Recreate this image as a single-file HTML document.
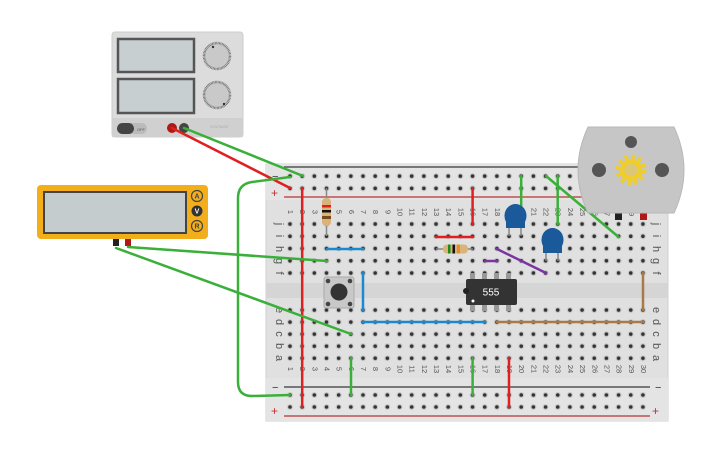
<!DOCTYPE html>
<html><head><meta charset="utf-8"><style>
html,body{margin:0;padding:0;background:#fff;}
svg{display:block;font-family:"Liberation Sans",sans-serif;}
</style></head><body>
<svg width="725" height="453" viewBox="0 0 725 453" xmlns="http://www.w3.org/2000/svg">
<defs>
<pattern id="h" x="283.915" y="170" width="12.17" height="12.25" patternUnits="userSpaceOnUse">
<circle cx="6.085" cy="6.125" r="3" fill="#c9c9c9"/><circle cx="6.085" cy="6.125" r="1.8" fill="#333"/>
</pattern>
<pattern id="h2" x="283.915" y="217.9" width="12.17" height="12.25" patternUnits="userSpaceOnUse">
<circle cx="6.085" cy="6.125" r="3" fill="#c9c9c9"/><circle cx="6.085" cy="6.125" r="1.8" fill="#333"/>
</pattern>
<pattern id="h3" x="283.915" y="303.9" width="12.17" height="12.05" patternUnits="userSpaceOnUse">
<circle cx="6.085" cy="6.1" r="3" fill="#c9c9c9"/><circle cx="6.085" cy="6.1" r="1.8" fill="#333"/>
</pattern>
<pattern id="h4" x="283.915" y="389" width="12.17" height="12" patternUnits="userSpaceOnUse">
<circle cx="6.085" cy="6" r="3" fill="#c9c9c9"/><circle cx="6.085" cy="6" r="1.8" fill="#333"/>
</pattern>
</defs>

<!-- breadboard -->
<rect x="266" y="164" width="402" height="257" fill="#e0e0e0" stroke="#cfcfcf"/>
<rect x="266" y="164" width="402" height="36" fill="#e4e4e4"/>
<rect x="266" y="283" width="402" height="15" fill="#d5d5d5"/>
<rect x="266" y="378" width="402" height="43" fill="#e4e4e4"/>
<line x1="284" y1="167" x2="650" y2="167" stroke="#555" stroke-width="1.5"/>
<line x1="284" y1="197" x2="650" y2="197" stroke="#c05050" stroke-width="1.5"/>
<line x1="284" y1="387" x2="650" y2="387" stroke="#555" stroke-width="1.5"/>
<line x1="284" y1="416" x2="650" y2="416" stroke="#c05050" stroke-width="1.5"/>
<rect x="284" y="170" width="365" height="24.5" fill="url(#h)"/>
<rect x="284" y="217.9" width="365" height="61.25" fill="url(#h2)"/>
<rect x="284" y="303.9" width="365" height="60.25" fill="url(#h3)"/>
<rect x="284" y="389" width="365" height="24" fill="url(#h4)"/>
<g fill="#333" font-size="11"><text x="272" y="180">−</text><text x="655" y="180">−</text><text x="272" y="391">−</text><text x="655" y="391">−</text></g>
<g fill="#c03030" font-size="12"><text x="271" y="197">+</text><text x="652" y="197">+</text><text x="271" y="415">+</text><text x="652" y="415">+</text></g>
<g fill="#555" font-size="11" text-anchor="middle">
<text transform="translate(279,224) rotate(90)" dy="3">j</text><text transform="translate(279,236) rotate(90)" dy="3">i</text><text transform="translate(279,249) rotate(90)" dy="3">h</text><text transform="translate(279,261) rotate(90)" dy="3">g</text><text transform="translate(279,273) rotate(90)" dy="3">f</text>
<text transform="translate(279,310) rotate(90)" dy="3">e</text><text transform="translate(279,322) rotate(90)" dy="3">d</text><text transform="translate(279,334) rotate(90)" dy="3">c</text><text transform="translate(279,346) rotate(90)" dy="3">b</text><text transform="translate(279,358) rotate(90)" dy="3">a</text>
<text transform="translate(656,224) rotate(90)" dy="3">j</text><text transform="translate(656,236) rotate(90)" dy="3">i</text><text transform="translate(656,249) rotate(90)" dy="3">h</text><text transform="translate(656,261) rotate(90)" dy="3">g</text><text transform="translate(656,273) rotate(90)" dy="3">f</text>
<text transform="translate(656,310) rotate(90)" dy="3">e</text><text transform="translate(656,322) rotate(90)" dy="3">d</text><text transform="translate(656,334) rotate(90)" dy="3">c</text><text transform="translate(656,346) rotate(90)" dy="3">b</text><text transform="translate(656,358) rotate(90)" dy="3">a</text>
</g>
<g fill="#555" font-size="7.5" text-anchor="middle">
<text transform="translate(290,212) rotate(90)" dy="2">1</text><text transform="translate(302.2,212) rotate(90)" dy="2">2</text><text transform="translate(314.3,212) rotate(90)" dy="2">3</text><text transform="translate(326.5,212) rotate(90)" dy="2">4</text><text transform="translate(338.7,212) rotate(90)" dy="2">5</text><text transform="translate(350.9,212) rotate(90)" dy="2">6</text><text transform="translate(363,212) rotate(90)" dy="2">7</text><text transform="translate(375.2,212) rotate(90)" dy="2">8</text><text transform="translate(387.4,212) rotate(90)" dy="2">9</text><text transform="translate(399.5,212) rotate(90)" dy="2">10</text><text transform="translate(411.7,212) rotate(90)" dy="2">11</text><text transform="translate(423.9,212) rotate(90)" dy="2">12</text><text transform="translate(436,212) rotate(90)" dy="2">13</text><text transform="translate(448.2,212) rotate(90)" dy="2">14</text><text transform="translate(460.4,212) rotate(90)" dy="2">15</text><text transform="translate(472.6,212) rotate(90)" dy="2">16</text><text transform="translate(484.7,212) rotate(90)" dy="2">17</text><text transform="translate(496.9,212) rotate(90)" dy="2">18</text><text transform="translate(509.1,212) rotate(90)" dy="2">19</text><text transform="translate(521.2,212) rotate(90)" dy="2">20</text><text transform="translate(533.4,212) rotate(90)" dy="2">21</text><text transform="translate(545.6,212) rotate(90)" dy="2">22</text><text transform="translate(557.7,212) rotate(90)" dy="2">23</text><text transform="translate(569.9,212) rotate(90)" dy="2">24</text><text transform="translate(582.1,212) rotate(90)" dy="2">25</text><text transform="translate(594.3,212) rotate(90)" dy="2">26</text><text transform="translate(606.4,212) rotate(90)" dy="2">27</text><text transform="translate(618.6,212) rotate(90)" dy="2">28</text><text transform="translate(630.8,212) rotate(90)" dy="2">29</text><text transform="translate(643,212) rotate(90)" dy="2">30</text>
<text transform="translate(290,369) rotate(90)" dy="2">1</text><text transform="translate(302.2,369) rotate(90)" dy="2">2</text><text transform="translate(314.3,369) rotate(90)" dy="2">3</text><text transform="translate(326.5,369) rotate(90)" dy="2">4</text><text transform="translate(338.7,369) rotate(90)" dy="2">5</text><text transform="translate(350.9,369) rotate(90)" dy="2">6</text><text transform="translate(363,369) rotate(90)" dy="2">7</text><text transform="translate(375.2,369) rotate(90)" dy="2">8</text><text transform="translate(387.4,369) rotate(90)" dy="2">9</text><text transform="translate(399.5,369) rotate(90)" dy="2">10</text><text transform="translate(411.7,369) rotate(90)" dy="2">11</text><text transform="translate(423.9,369) rotate(90)" dy="2">12</text><text transform="translate(436,369) rotate(90)" dy="2">13</text><text transform="translate(448.2,369) rotate(90)" dy="2">14</text><text transform="translate(460.4,369) rotate(90)" dy="2">15</text><text transform="translate(472.6,369) rotate(90)" dy="2">16</text><text transform="translate(484.7,369) rotate(90)" dy="2">17</text><text transform="translate(496.9,369) rotate(90)" dy="2">18</text><text transform="translate(509.1,369) rotate(90)" dy="2">19</text><text transform="translate(521.2,369) rotate(90)" dy="2">20</text><text transform="translate(533.4,369) rotate(90)" dy="2">21</text><text transform="translate(545.6,369) rotate(90)" dy="2">22</text><text transform="translate(557.7,369) rotate(90)" dy="2">23</text><text transform="translate(569.9,369) rotate(90)" dy="2">24</text><text transform="translate(582.1,369) rotate(90)" dy="2">25</text><text transform="translate(594.3,369) rotate(90)" dy="2">26</text><text transform="translate(606.4,369) rotate(90)" dy="2">27</text><text transform="translate(618.6,369) rotate(90)" dy="2">28</text><text transform="translate(630.8,369) rotate(90)" dy="2">29</text><text transform="translate(643,369) rotate(90)" dy="2">30</text>
</g>

<!-- power supply -->
<rect x="112" y="32" width="131" height="105" rx="3" fill="#dcdcdc" stroke="#ccc"/>
<rect x="112" y="118" width="131" height="19" fill="#d0d0d0"/>
<rect x="118" y="39" width="76" height="33" fill="#c8cfd1" stroke="#555" stroke-width="2.5"/>
<rect x="118" y="79" width="76" height="34" fill="#c8cfd1" stroke="#555" stroke-width="2.5"/>
<circle cx="217" cy="56" r="13" fill="#c9c9c9" stroke="#777" stroke-width="2.5" stroke-dasharray="0.8 0.6"/>
<circle cx="217" cy="95" r="13" fill="#c9c9c9" stroke="#777" stroke-width="2.5" stroke-dasharray="0.8 0.6"/>
<circle cx="213" cy="47" r="1.2" fill="#333"/><circle cx="224" cy="104" r="1.2" fill="#333"/>
<rect x="117" y="123" width="30" height="11" rx="5.5" fill="#bbb"/>
<rect x="117" y="123" width="17" height="11" rx="5.5" fill="#444"/>
<text x="137" y="131" font-size="4" fill="#555">OFF</text>
<circle cx="172" cy="128" r="5" fill="#b01818"/><circle cx="184" cy="128" r="5" fill="#444"/>
<text x="210" y="128" font-size="4" fill="#aaa">VOLTAGE</text>

<!-- multimeter -->
<rect x="37" y="185" width="171" height="54" rx="4" fill="#f3ae1b"/>
<rect x="44" y="192" width="142" height="41" fill="#c5ccce" stroke="#444" stroke-width="2"/>
<circle cx="197" cy="196" r="5.5" fill="none" stroke="#444" stroke-width="1.2"/>
<circle cx="197" cy="211" r="5.5" fill="#333"/>
<circle cx="197" cy="226" r="5.5" fill="none" stroke="#444" stroke-width="1.2"/>
<g font-size="7" font-weight="bold" text-anchor="middle"><text x="197" y="198.5" fill="#444">A</text><text x="197" y="213.5" fill="#fff">V</text><text x="197" y="228.5" fill="#444">R</text></g>
<rect x="113" y="239" width="6" height="7" fill="#222"/><rect x="125" y="239" width="6" height="7" fill="#b01818"/>

<!-- components -->
<line x1="326.5" y1="188" x2="326.5" y2="236" stroke="#888" stroke-width="1.5"/>
<rect x="322" y="198" width="9" height="28" rx="4" fill="#d9b47a"/>
<rect x="322" y="205" width="9" height="2.5" fill="#e02020"/><rect x="322" y="210" width="9" height="2.5" fill="#111"/><rect x="322" y="216" width="9" height="3" fill="#7a4a1a"/>
<line x1="436" y1="249" x2="473" y2="249" stroke="#888" stroke-width="1.5"/>
<rect x="443" y="244.5" width="25" height="9" rx="4" fill="#d9b47a"/>
<rect x="448" y="244.5" width="2.5" height="9" fill="#1a8a1a"/><rect x="452.5" y="244.5" width="2.5" height="9" fill="#111"/><rect x="457" y="244.5" width="3" height="9" fill="#f08a20"/>
<rect x="324" y="277" width="30" height="31" rx="2" fill="#c8c8c8" stroke="#aaa"/>
<circle cx="328" cy="281" r="2.3" fill="#444"/><circle cx="350" cy="281" r="2.3" fill="#444"/><circle cx="328" cy="304" r="2.3" fill="#444"/><circle cx="350" cy="304" r="2.3" fill="#444"/>
<circle cx="339" cy="292" r="8.5" fill="#333"/>
<g fill="#999"><rect x="470" y="273" width="5" height="8"/><rect x="482" y="273" width="5" height="8"/><rect x="494" y="273" width="5" height="8"/><rect x="506" y="273" width="5" height="8"/><rect x="470" y="303" width="5" height="8"/><rect x="482" y="303" width="5" height="8"/><rect x="494" y="303" width="5" height="8"/><rect x="506" y="303" width="5" height="8"/></g>
<rect x="466" y="279" width="51" height="26" rx="2" fill="#333"/>
<circle cx="466" cy="291" r="3" fill="#222"/><circle cx="473" cy="301" r="1.5" fill="#fff"/>
<text x="491" y="295.5" font-size="10" fill="#fff" text-anchor="middle">555</text>

<!-- wires -->
<g stroke-linecap="round" fill="none" stroke-width="2.5">
<line x1="302.2" y1="188" x2="302.2" y2="407" stroke="#e02020"/>
<line x1="327" y1="249" x2="363" y2="249" stroke="#1a8ad0"/>
<line x1="363" y1="273" x2="363" y2="310" stroke="#1a8ad0"/>
<line x1="363" y1="322" x2="485" y2="322" stroke="#1a8ad0"/>
<line x1="436" y1="237" x2="473" y2="237" stroke="#e02020"/>
<line x1="472.6" y1="188" x2="472.6" y2="224" stroke="#e02020"/>
<line x1="485" y1="261" x2="497" y2="261" stroke="#7a35a0"/>
<line x1="497" y1="249" x2="546" y2="273" stroke="#7a35a0"/>
<line x1="643" y1="273" x2="643" y2="310" stroke="#a87a4a"/>
<line x1="497" y1="322" x2="643" y2="322" stroke="#a87a4a"/>
<line x1="351" y1="358" x2="351" y2="395" stroke="#3ab03a"/>
<line x1="472.6" y1="358" x2="472.6" y2="395" stroke="#3ab03a"/>
<line x1="509" y1="358" x2="509" y2="407" stroke="#e02020"/>
<line x1="521.2" y1="176" x2="521.2" y2="210" stroke="#3ab03a"/>
<line x1="557.7" y1="176" x2="557.7" y2="224" stroke="#3ab03a"/>
<line x1="546" y1="176" x2="618.6" y2="237" stroke="#3ab03a"/>
<line x1="172" y1="128" x2="290" y2="188" stroke="#e02020"/>
<line x1="184" y1="128" x2="303" y2="176" stroke="#3ab03a"/>
<line x1="128" y1="247" x2="327" y2="261" stroke="#3ab03a"/>
<line x1="116" y1="248" x2="351" y2="334" stroke="#3ab03a"/>
<path d="M290,177 L252,182 Q238,184 238,198 L238,382 Q238,396 252,396 L290,395" stroke="#3ab03a"/>
</g>

<!-- capacitors -->
<line x1="509" y1="225" x2="509" y2="236" stroke="#888" stroke-width="1.5"/><line x1="521" y1="225" x2="521" y2="236" stroke="#888" stroke-width="1.5"/>
<path d="M506,228 L506,222 A11,12 0 1 1 525,222 L525,228 Z" fill="#1a5a9a"/>
<line x1="546" y1="250" x2="546" y2="261" stroke="#888" stroke-width="1.5"/><line x1="558" y1="250" x2="558" y2="261" stroke="#888" stroke-width="1.5"/>
<path d="M543,253 L543,246 A11,12 0 1 1 562,246 L562,253 Z" fill="#1a5a9a"/>

<!-- motor -->
<rect x="615" y="210" width="7" height="10" fill="#222"/><rect x="640" y="210" width="7" height="10" fill="#b01818"/>
<path d="M588,127 L674,127 Q694,170 674,213 L588,213 Q568,170 588,127 Z" fill="#c6c6c6" stroke="#b8b8b8"/>
<circle cx="631" cy="142" r="6" fill="#555"/>
<circle cx="599" cy="170" r="7" fill="#555"/><circle cx="662" cy="170" r="7" fill="#555"/>
<circle cx="631" cy="170" r="13" fill="none" stroke="#efcd2a" stroke-width="5" stroke-dasharray="3.4 3.4"/>
<circle cx="631" cy="170" r="11" fill="#efcd2a"/>
<circle cx="631" cy="170" r="6.5" fill="#dbc77a"/>
</svg>
</body></html>
